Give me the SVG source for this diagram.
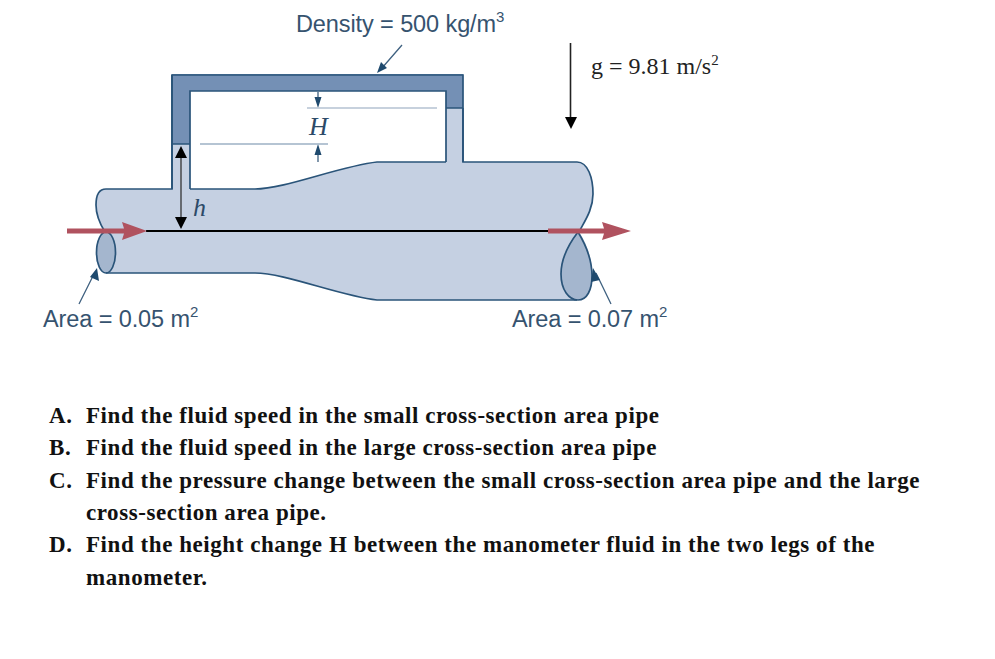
<svg xmlns="http://www.w3.org/2000/svg" width="995" height="659" viewBox="0 0 995 659">
<style>
.s{font-family:"Liberation Sans",Arial,sans-serif;fill:#36536f;font-size:23.5px;letter-spacing:-.1px}
.q{font-family:"Liberation Serif","Times New Roman",serif;font-weight:bold;font-size:23px;fill:#111;letter-spacing:.56px}
.i{font-family:"Liberation Serif","Times New Roman",serif;font-style:italic;font-size:26px;fill:#2c4a68}
.o{stroke:#2a5479;stroke-width:1.7;fill:none}
.l{stroke:#3f6180;stroke-width:1.3;fill:none}
.a{fill:#1f4a6e}
.r{fill:#b0525f}
</style>
<rect width="995" height="659" fill="#fff"/>
<g id="pipe">
<path d="M172 189V75H463V162H577C588 162 593 178 593 194C593 210 584 222 579 232C588 245 593 262 592 277C590 292 584 300 577 300H377C340 296 285 273 255 273H106C98 273 96 262 96 252C96 243 100 236 105 232C100 224 96 214 96 205C96 195 99 189 106 189Z" fill="#c5d0e2"/>
<path d="M190 91H446V162H377C340 166 285 189 255 189H190Z" fill="#fff"/>
<path d="M172 144V74H463V108H446V91H190V144Z" fill="#7490b5"/>
<ellipse cx="106" cy="252.500" rx="9.500" ry="20.500" fill="#a4b6ce"/>
<path d="M578 232C568 245 561 260 561 274C561 290 569 300 578 300C587 300 592 290 592 276C592 260 586 245 578 232Z" fill="#a4b6ce"/>
<path class="o" d="M106 189H172V75H463V162H577C588 162 593 178 593 194C593 210 584 222 579 232"/>
<path class="o" d="M106 189C99 189 96 195 96 205C96 214 100 224 105 232"/>
<path class="o" d="M172 189V75M190 189V91H446V162M463 108V162M190 189H255C285 189 340 166 377 162H446"/>
<path class="o" d="M106 273H255C285 273 340 296 377 300H577"/>
<path class="o" d="M172 144H190M446 108H463"/>
<ellipse class="o" cx="106" cy="252.500" rx="9.500" ry="20.500"/>
<path class="o" d="M578 232C568 245 561 260 561 274C561 290 569 300 578 300C587 300 592 290 592 276C592 260 586 245 578 232Z"/>
</g>
<g id="connectors">
<path d="M146 231H549" stroke="#000" stroke-width="2" fill="none"/>
<path class="r" d="M67 228.500H124L122 222L147 231L122 240L124 233.500H67Z"/>
<path class="r" d="M548 228.500H604L602 222L631 231L602 240L604 233.500H548Z"/>
<path d="M181 156V218" stroke="#333" stroke-width="1.300"/>
<path d="M181 146L187 158H175Z M181 229L175 217H187Z" fill="#000"/>
<path d="M570.500 43V118" stroke="#222" stroke-width="1.600"/>
<path d="M571 129L565 117H577Z" fill="#000"/>
<path class="l" d="M318 92V103M318 152V162M402 45L382 68M79 304L94 274M611 304L596 273"/>
<path class="a" d="M318 108L314.500 97H321.500Z M318 144L314.500 155H321.500Z M377 73L381 62L387 68Z M97 268L99 281L90 277Z M593 268L600 280L591 282Z"/>
<path d="M307 108H437" stroke="#b5c2d2" stroke-width="1.500"/>
<path d="M200 144H328" stroke="#9db0c5" stroke-width="1.300"/>
</g>
<g id="labels">
<text class="s" x="296" y="32">Density = 500 kg/m<tspan font-size="15" dy="-10">3</tspan></text>
<text x="591" y="74" font-family="'Liberation Serif',serif" font-size="24" fill="#222">g = 9.81 m/s<tspan font-size="15" dy="-9">2</tspan></text>
<text class="i" x="309" y="135">H</text>
<text class="i" x="193" y="216">h</text>
<text class="s" x="43" y="327">Area = 0.05 m<tspan font-size="15" dy="-10">2</tspan></text>
<text class="s" x="512" y="327">Area = 0.07 m<tspan font-size="15" dy="-10">2</tspan></text>
</g>
<g id="questions">
<text class="q" x="49" y="423">A.</text><text class="q" x="86" y="423">Find the fluid speed in the small cross-section area pipe</text>
<text class="q" x="49" y="455">B.</text><text class="q" x="86" y="455">Find the fluid speed in the large cross-section area pipe</text>
<text class="q" x="49" y="488">C.</text><text class="q" x="86" y="488">Find the pressure change between the small cross-section area pipe and the large</text>
<text class="q" x="86" y="520">cross-section area pipe.</text>
<text class="q" x="49" y="552">D.</text><text class="q" x="86" y="552">Find the height change H between the manometer fluid in the two legs of the</text>
<text class="q" x="86" y="585">manometer.</text>
</g>
</svg>
